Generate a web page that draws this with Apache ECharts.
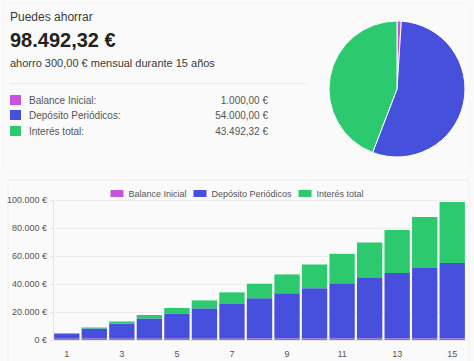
<!DOCTYPE html>
<html>
<head>
<meta charset="utf-8">
<script src="https://cdn.jsdelivr.net/npm/echarts@6/dist/echarts.min.js"></script>
<style>
html,body{margin:0;padding:0;background:#fafafa;}
#c{width:474px;height:361px;}
</style>
</head>
<body>
<div id="c"></div>
<script>
// ---- data ----
const years = ['1','2','3','4','5','6','7','8','9','10','11','12','13','14','15'];
const balanceInicial = [1000,1000,1000,1000,1000,1000,1000,1000,1000,1000,1000,1000,1000,1000,1000];
const depositos = [3600,7200,10800,14400,18000,21600,25200,28800,32400,36000,39600,43200,46800,50400,54000];
const intereses = [190,650,1420,2480,3900,5680,7830,10410,13440,16940,20960,25520,30700,36490,43492.32];
const seriesNames = ['Balance Inicial','Depósito Periódicos','Interés total'];
const pieValues = [1000, 54000, 43492.32];
const pieLabels = ['1.000,00 €','54.000,00 €','43.492,32 €'];
const titleText = 'Puedes ahorrar';
const totalText = '98.492,32 €';
const subText = 'ahorro 300,00 € mensual durante 15 años';
const colors = ['#c752de','#4650dc','#2dc96f'];

const FONT = '"Liberation Sans", Arial, sans-serif';
function fmtThousands(v){
  const s = Math.round(v).toString();
  return s.replace(/\B(?=(\d{3})+(?!\d))/g,'.') + ' €';
}

const chart = echarts.init(document.getElementById('c'), null, {renderer:'svg'});

const graphics = [
  {type:'rect', shape:{x:3,y:3,width:467,height:169}, style:{fill:'#fafafa',stroke:'#f4f4f4',lineWidth:1}, z:-10},
  {type:'rect', shape:{x:8,y:180,width:461,height:190}, style:{fill:'#fafafa',stroke:'#f0f0f0',lineWidth:1}, z:-10},
  {type:'text', left:10, top:11, style:{text:titleText, font:'12px '+FONT, fill:'#3a3a3a'}},
  {type:'text', left:10, top:30, style:{text:totalText, font:'bold 20px '+FONT, fill:'#222'}},
  {type:'text', left:10, top:57, style:{text:subText, font:'11px '+FONT, fill:'#3a3a3a'}},
  {type:'line', shape:{x1:10,y1:83.5,x2:307,y2:83.5}, style:{stroke:'#e8e8e8',lineWidth:1}}
];
const rowY = [95, 110, 126];
seriesNames.forEach((n,i)=>{
  graphics.push({type:'rect', shape:{x:10,y:rowY[i],width:11,height:10}, style:{fill:colors[i]}});
  graphics.push({type:'text', left:29, top:rowY[i], style:{text:n+':', font:'10px '+FONT, fill:'#555'}});
  graphics.push({type:'text', right:474-268, top:rowY[i], style:{text:pieLabels[i], font:'10px '+FONT, fill:'#555', align:'right'}});
});

chart.setOption({
  animation:false,
  textStyle:{fontFamily:FONT},
  color:colors,
  graphic:graphics,
  legend:{
    data:seriesNames, top:184, left:'center', icon:'rect',
    itemWidth:13, itemHeight:7, itemGap:7,
    textStyle:{fontSize:9, color:'#555', fontFamily:FONT}
  },
  grid:{left:53, right:8, top:200, bottom:21},
  xAxis:{
    type:'category', data:years,
    axisLine:{lineStyle:{color:'#e6e6e6'}},
    axisTick:{show:false},
    axisLabel:{interval:1, fontSize:9, color:'#555', margin:9}
  },
  yAxis:{
    type:'value', min:0, max:100000, interval:20000,
    axisLine:{show:true, lineStyle:{color:'#e6e6e6'}},
    axisTick:{show:true, length:3, lineStyle:{color:'#e6e6e6'}},
    splitLine:{lineStyle:{color:'#ececec'}},
    axisLabel:{fontSize:9, color:'#555', margin:6, formatter:fmtThousands}
  },
  series:[
    {name:seriesNames[0], type:'bar', stack:'t', data:balanceInicial, barCategoryGap:'8%'},
    {name:seriesNames[1], type:'bar', stack:'t', data:depositos},
    {name:seriesNames[2], type:'bar', stack:'t', data:intereses},
    {type:'pie', center:[397,89], radius:68, startAngle:90, label:{show:false}, labelLine:{show:false},
     itemStyle:{borderColor:'#fff', borderWidth:1}, silent:true,
     data:seriesNames.map((n,i)=>({name:n+' ', value:pieValues[i]}))}
  ]
});
</script>
</body>
</html>
